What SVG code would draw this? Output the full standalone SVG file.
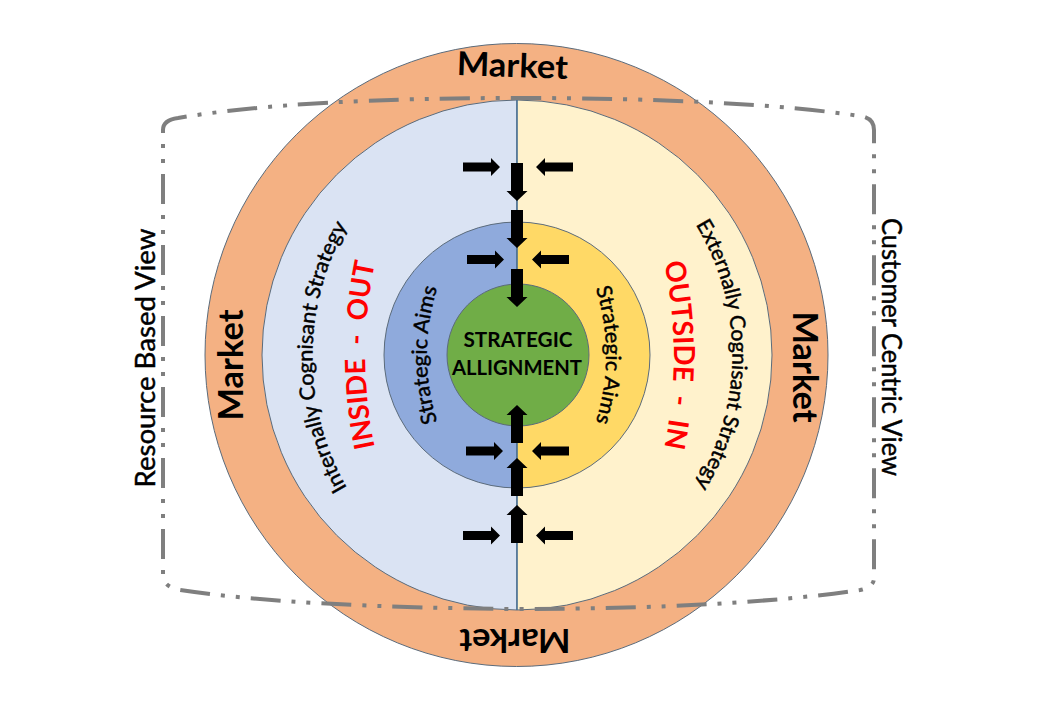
<svg xmlns="http://www.w3.org/2000/svg" xmlns:xlink="http://www.w3.org/1999/xlink" width="1058" height="720" viewBox="0 0 1058 720">
<style>
.t{font-family:Lato,"Open Sans","Liberation Sans",sans-serif;fill:#000}
.r{stroke:#000;stroke-width:0.45}
.b{font-weight:700}
.red{fill:#FF0000}
.ring{stroke:#5B6B7B;stroke-width:1}
.arrow{fill:#000}
.frame{fill:none;stroke:#7F7F7F;stroke-width:4;stroke-dasharray:30 11 4 11 4 11}
</style>
<defs>
<path id="aR" d="M0,-4.5 H28 V-9 L37,0 L28,9 V4.5 H0 Z"/>
<path id="aL" d="M0,0 L9,-9 V-4.5 H37 V4.5 H9 V9 Z"/>
<path id="aD" d="M-6,0 H6 V28 H10.5 L0,38 L-10.5,28 H-6 Z"/>
<path id="aU" d="M-6,38 H6 V10 H10.5 L0,0 L-10.5,10 H-6 Z"/>
<path id="pInt" d="M350,493 A265,265 0 0 1 350,221"/>
<path id="pExt" d="M694,222 A250,250 0 0 1 694,488"/>
<path id="pIO" d="M375,448 A450,450 0 0 1 375,262"/>
<path id="pOI" d="M664,262 A450,450 0 0 1 664,448"/>
<path id="pSAL" d="M438,424 A220,220 0 0 1 438,286"/>
<path id="pSAR" d="M595,286 A220,220 0 0 1 595,424"/>
</defs>
<rect width="1058" height="720" fill="#FFFFFF"/>

<g id="market-ring">
<circle class="ring" cx="516.5" cy="355" r="311.5" fill="#F4B183"/>
<text class="t b" font-size="33" text-anchor="middle" textLength="111" lengthAdjust="spacingAndGlyphs" transform="translate(512,77) rotate(2)">Market</text>
<text class="t b" font-size="34" text-anchor="middle" textLength="111" lengthAdjust="spacingAndGlyphs" transform="translate(243,365) rotate(-90)">Market</text>
<text class="t b" font-size="34" text-anchor="middle" textLength="111" lengthAdjust="spacingAndGlyphs" transform="translate(793,367) rotate(90)">Market</text>
<text class="t b" font-size="33" text-anchor="middle" textLength="111" lengthAdjust="spacingAndGlyphs" transform="translate(515,629) rotate(180)">Market</text>
</g>

<g id="strategy-circle">
<path class="ring" d="M517,100 A255,255 0 0 0 517,610 Z" fill="#DAE3F3"/>
<path class="ring" d="M517,100 A255,255 0 0 1 517,610 Z" fill="#FFF2CC"/>
<line x1="517" y1="100" x2="517" y2="610" stroke="#41719C" stroke-width="1.2"/>
<text class="t r" font-size="21"><textPath href="#pInt" xlink:href="#pInt" startOffset="50%" text-anchor="middle" textLength="274" lengthAdjust="spacingAndGlyphs">Internally Cognisant Strategy</textPath></text>
<text class="t r" font-size="21"><textPath href="#pExt" xlink:href="#pExt" startOffset="50%" text-anchor="middle" textLength="274" lengthAdjust="spacingAndGlyphs">Externally Cognisant Strategy</textPath></text>
<text class="t b red" font-size="28"><textPath href="#pIO" xlink:href="#pIO" startOffset="50%" text-anchor="middle" textLength="186" lengthAdjust="spacingAndGlyphs">INSIDE&#160;&#160;-&#160;&#160;OUT</textPath></text>
<text class="t b red" font-size="28"><textPath href="#pOI" xlink:href="#pOI" startOffset="50%" text-anchor="middle" textLength="186" lengthAdjust="spacingAndGlyphs">OUTSIDE&#160;&#160;-&#160;&#160;IN</textPath></text>
</g>

<g id="strategic-aims">
<path class="ring" d="M517,222 A133,133 0 0 0 517,488 Z" fill="#8FAADC"/>
<path class="ring" d="M517,222 A133,133 0 0 1 517,488 Z" fill="#FFD966"/>
<line x1="517" y1="222" x2="517" y2="488" stroke="#41719C" stroke-width="1.2"/>
<text class="t r" font-size="21"><textPath href="#pSAL" xlink:href="#pSAL" startOffset="50%" text-anchor="middle" textLength="136" lengthAdjust="spacingAndGlyphs">Strategic Aims</textPath></text>
<text class="t r" font-size="21"><textPath href="#pSAR" xlink:href="#pSAR" startOffset="50%" text-anchor="middle" textLength="136" lengthAdjust="spacingAndGlyphs">Strategic Aims</textPath></text>
</g>

<g id="strategic-allignment">
<circle class="ring" cx="518" cy="355" r="71" fill="#70AD47"/>
<text class="t b" font-size="21" x="518" y="347" text-anchor="middle" textLength="109" lengthAdjust="spacingAndGlyphs">STRATEGIC</text>
<text class="t b" font-size="21" x="517" y="375" text-anchor="middle" textLength="130" lengthAdjust="spacingAndGlyphs">ALLIGNMENT</text>
</g>

<g id="arrows" class="arrow">
<use href="#aR" xlink:href="#aR" x="463" y="167"/>
<use href="#aL" xlink:href="#aL" x="536" y="167"/>
<use href="#aR" xlink:href="#aR" x="467" y="259.5"/>
<use href="#aL" xlink:href="#aL" x="532" y="259.5"/>
<use href="#aR" xlink:href="#aR" x="466" y="451"/>
<use href="#aL" xlink:href="#aL" x="532" y="451"/>
<use href="#aR" xlink:href="#aR" x="463" y="535.5"/>
<use href="#aL" xlink:href="#aL" x="536" y="535.5"/>
<use href="#aD" xlink:href="#aD" x="517" y="163"/>
<use href="#aD" xlink:href="#aD" x="517" y="210"/>
<use href="#aD" xlink:href="#aD" x="517" y="269"/>
<use href="#aU" xlink:href="#aU" x="517" y="405"/>
<use href="#aU" xlink:href="#aU" x="517" y="458"/>
<use href="#aU" xlink:href="#aU" x="517" y="505"/>
</g>

<g id="views">
<path class="frame" d="M163,130 Q163,120 178,118 C260,104 380,98 518,98 C660,98 780,104 860,116 Q874,118 874,130 L874,578 Q874,587 860,590 C780,602 660,609 518,609 C380,608 260,602 180,590 Q163,587 163,575 Z"/>
<text class="t r" font-size="26" text-anchor="middle" textLength="259" lengthAdjust="spacingAndGlyphs" transform="translate(155,358) rotate(-90)">Resource Based View</text>
<text class="t r" font-size="26" text-anchor="middle" textLength="258" lengthAdjust="spacingAndGlyphs" transform="translate(882,347) rotate(90)">Customer Centric View</text>
</g>
</svg>
